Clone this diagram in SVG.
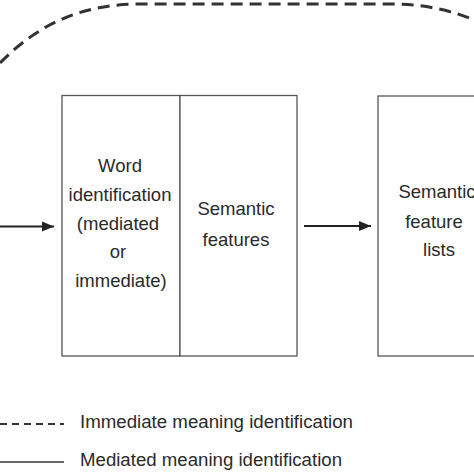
<svg xmlns="http://www.w3.org/2000/svg" width="474" height="474" viewBox="0 0 474 474">
<style>
.box{fill:#fff;stroke:#555;stroke-width:1.3}
.t{font-family:"Liberation Sans",Arial,sans-serif;font-size:18.5px;fill:#2a2a2a;text-anchor:middle}
.lg{font-family:"Liberation Sans",Arial,sans-serif;font-size:17.5px;fill:#2a2a2a}
.arr{stroke:#222;stroke-width:2.2;fill:none}
.dash{stroke:#333;stroke-width:3;fill:none;stroke-dasharray:12 7}
</style>
<defs>
<marker id="ah" markerWidth="13" markerHeight="11" refX="12" refY="5.5" orient="auto" markerUnits="userSpaceOnUse">
<path d="M0,0.5 L12,5.5 L0,10.5 Z" fill="#222"/>
</marker>
</defs>
<rect width="474" height="474" fill="#fff"/>
<g id="connectors">
<path class="dash" d="M0,63 C40,22 85,4 140,4 L390,4 C420,4 448,9 474,20"/>
<line class="arr" x1="0" y1="226.5" x2="54" y2="226.5" marker-end="url(#ah)"/>
<line class="arr" x1="304" y1="226" x2="371" y2="226" marker-end="url(#ah)"/>
</g>
<g id="node-word">
<rect class="box" x="62" y="95.5" width="118" height="260.5"/>
<text class="t" x="120" y="172">Word</text>
<text class="t" x="120" y="201">identification</text>
<text class="t" x="118" y="230">(mediated</text>
<text class="t" x="118" y="258">or</text>
<text class="t" x="121" y="287">immediate)</text>
</g>
<g id="node-semantic">
<rect class="box" x="180" y="95.5" width="117" height="260.5"/>
<text class="t" x="236" y="215">Semantic</text>
<text class="t" x="236" y="246">features</text>
</g>
<g id="node-lists">
<rect class="box" x="378" y="96" width="130" height="260"/>
<text class="t" x="437" y="198">Semantic</text>
<text class="t" x="434" y="228">feature</text>
<text class="t" x="439" y="256">lists</text>
</g>
<g id="legend">
<line x1="0" y1="424" x2="64" y2="424" stroke="#333" stroke-width="2.2" stroke-dasharray="7 5"/>
<text class="lg" x="80" y="428" textLength="273" lengthAdjust="spacingAndGlyphs">Immediate meaning identification</text>
<line x1="0" y1="462" x2="64" y2="462" stroke="#333" stroke-width="1.6"/>
<text class="lg" x="80" y="466" textLength="262" lengthAdjust="spacingAndGlyphs">Mediated meaning identification</text>
</g>
</svg>
